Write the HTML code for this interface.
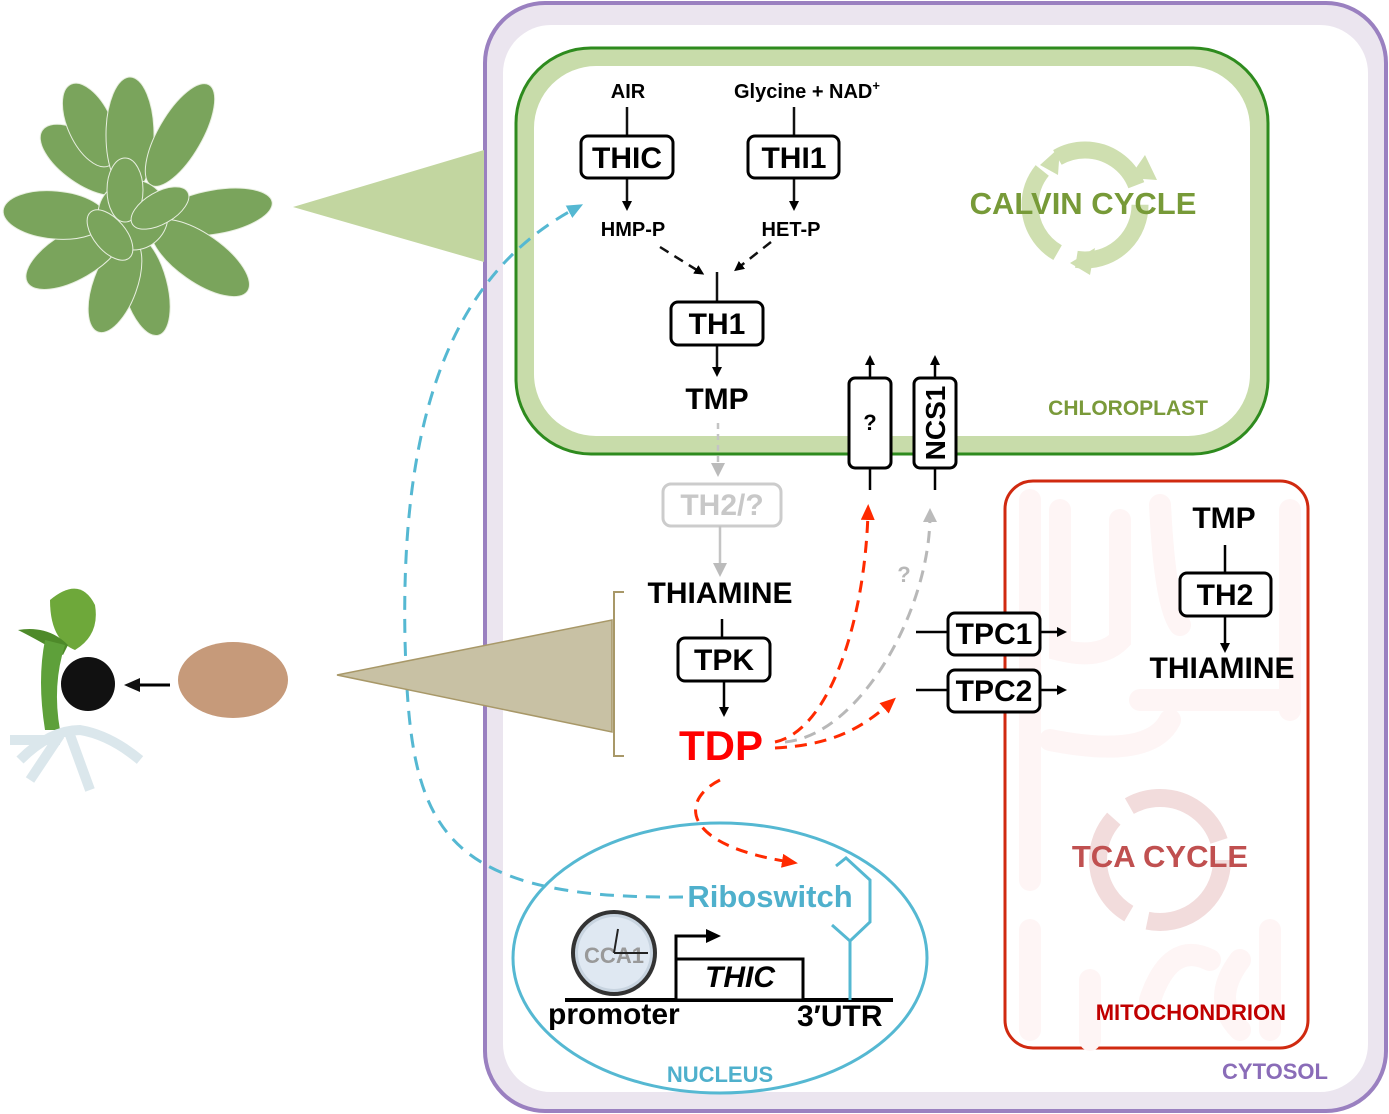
<!DOCTYPE html>
<html><head><meta charset="utf-8"><style>
html,body{margin:0;padding:0;background:#fff;}
svg{display:block;font-family:"Liberation Sans",Arial,sans-serif;font-weight:bold;}
</style></head><body>
<svg width="1389" height="1114" viewBox="0 0 1389 1114" xmlns="http://www.w3.org/2000/svg">
<defs>
<marker id="ab" markerWidth="10" markerHeight="10" refX="5" refY="5" orient="auto" markerUnits="userSpaceOnUse"><path d="M0,0 L10,5 L0,10 z" fill="#000"/></marker>
<marker id="ar" markerWidth="16" markerHeight="14" refX="8" refY="7" orient="auto" markerUnits="userSpaceOnUse"><path d="M0,0 L16,7 L0,14 z" fill="#ff2a00"/></marker>
<marker id="ag" markerWidth="14" markerHeight="14" refX="7" refY="7" orient="auto" markerUnits="userSpaceOnUse"><path d="M0,0 L14,7 L0,14 z" fill="#bbb"/></marker>
<marker id="ac" markerWidth="16" markerHeight="14" refX="8" refY="7" orient="auto" markerUnits="userSpaceOnUse"><path d="M0,0 L16,7 L0,14 z" fill="#55b8d2"/></marker>
<marker id="ak" markerWidth="16" markerHeight="14" refX="8" refY="7" orient="auto" markerUnits="userSpaceOnUse"><path d="M0,0 L16,7 L0,14 z" fill="#111"/></marker>
</defs>

<!-- cytosol -->
<rect x="485" y="3" width="901" height="1108" rx="60" fill="#ebe5ef" stroke="#9a80c0" stroke-width="4"/>
<rect x="503" y="25" width="865" height="1067" rx="48" fill="#fff"/>
<text x="1328" y="1079" font-size="22" fill="#8a6cb8" text-anchor="end">CYTOSOL</text>

<!-- chloroplast -->
<rect x="516" y="48" width="752" height="406" rx="75" fill="#c8dcaa" stroke="#2e8b1e" stroke-width="3"/>
<rect x="534" y="66" width="716" height="370" rx="62" fill="#fff"/>
<text x="1208" y="415" font-size="21" fill="#7a9a3a" text-anchor="end">CHLOROPLAST</text>
<circle cx="1085" cy="205" r="55" fill="none" stroke="#cfdfb0" stroke-width="17" stroke-dasharray="95 20"/>
<path d="M1040,165 l20,-18 l-2,28z M1145,155 l12,25 l-28,-2z M1090,275 l-20,-12 l25,-15z" fill="#cfdfb0"/>
<text x="1083" y="214" font-size="31" fill="#779a38" text-anchor="middle">CALVIN CYCLE</text>

<!-- mitochondrion -->
<rect x="1005" y="481" width="303" height="567" rx="28" fill="#fff" stroke="#d02a10" stroke-width="3"/>
<g fill="none" stroke="#fef5f5" stroke-width="22" stroke-linecap="round">
<path d="M1030,500 v380 M1060,510 v140 q40,10 60,-10 v-120 M1160,505 q5,100 20,120 M1290,510 v200 M1140,700 h140 M1050,740 q100,20 120,-20 M1030,930 v100 M1090,980 v60 M1150,1000 q20,-60 60,-40 M1270,930 v100 M1240,960 q-30,40 0,70"/>
</g>
<circle cx="1160" cy="860" r="62" fill="none" stroke="#f2dcdc" stroke-width="18" stroke-dasharray="110 20"/>
<text x="1160" y="867" font-size="31" fill="#c05050" text-anchor="middle">TCA CYCLE</text>
<text x="1286" y="1020" font-size="22" fill="#c00000" text-anchor="end">MITOCHONDRION</text>

<!-- nucleus -->
<ellipse cx="720" cy="958" rx="207" ry="135" fill="#fff" stroke="#55b8d2" stroke-width="3"/>
<text x="720" y="1082" font-size="22" fill="#4fb0cc" text-anchor="middle">NUCLEUS</text>
<line x1="565" y1="1000" x2="893" y2="1000" stroke="#000" stroke-width="4"/>
<rect x="676" y="959" width="127" height="41" fill="#fff" stroke="#000" stroke-width="3"/>
<text x="740" y="987" font-size="30" font-style="italic" text-anchor="middle">THIC</text>
<path d="M676,959 V936 H708" fill="none" stroke="#000" stroke-width="3"/>
<path d="M706,929 L721,936 L706,943z" fill="#000"/>
<circle cx="614" cy="953" r="41" fill="#c8d4e0" stroke="#333" stroke-width="4"/>
<circle cx="614" cy="953" r="36" fill="#dfe8f2"/>
<text x="614" y="963" font-size="22" fill="#999" text-anchor="middle">CCA1</text>
<path d="M614,953 L618,929 M614,953 H648" stroke="#222" stroke-width="2"/>
<text x="548" y="1024" font-size="30" fill="#000">promoter</text>
<text x="797" y="1026" font-size="30" fill="#000">3′UTR</text>
<path d="M850,1000 V941 M832,925 L850,941 L870,922 V880 L846,858 L836,866" fill="none" stroke="#55b8d2" stroke-width="3"/>
<text x="770" y="907" font-size="31" fill="#4fb0cc" text-anchor="middle">Riboswitch</text>

<!-- blue dashed path -->
<path d="M683,897 C430,900 410,820 405,640 C400,400 460,270 576,208" fill="none" stroke="#55b8d2" stroke-width="3" stroke-dasharray="14 9" marker-end="url(#ac)"/>

<!-- plants -->
<polygon points="293,207 484,150 484,262" fill="#c2d6a0"/>
<polygon points="337,675 612,620 612,732" fill="#c8c1a4" stroke="#a89868" stroke-width="1.5"/>
<path d="M624,592 H614 V756 H624" fill="none" stroke="#a89868" stroke-width="2"/>
<g fill="#7aa45c" stroke="#e8efe0" stroke-width="1">
<ellipse cx="85" cy="160" rx="24" ry="52" transform="rotate(-55 85 160)"/>
<ellipse cx="90" cy="125" rx="22" ry="45" transform="rotate(-25 90 125)"/>
<ellipse cx="130" cy="135" rx="24" ry="58"/>
<ellipse cx="180" cy="135" rx="22" ry="58" transform="rotate(30 180 135)"/>
<ellipse cx="215" cy="212" rx="22" ry="58" transform="rotate(80 215 212)"/>
<ellipse cx="200" cy="258" rx="24" ry="58" transform="rotate(125 200 258)"/>
<ellipse cx="145" cy="285" rx="22" ry="52" transform="rotate(165 145 285)"/>
<ellipse cx="115" cy="285" rx="22" ry="50" transform="rotate(200 115 285)"/>
<ellipse cx="75" cy="255" rx="24" ry="55" transform="rotate(240 75 255)"/>
<ellipse cx="55" cy="215" rx="24" ry="52" transform="rotate(275 55 215)"/>
<circle cx="133" cy="215" r="35"/>
<ellipse cx="125" cy="190" rx="18" ry="32"/>
<ellipse cx="160" cy="208" rx="16" ry="32" transform="rotate(60 160 208)"/>
<ellipse cx="110" cy="235" rx="16" ry="30" transform="rotate(-40 110 235)"/>
</g>
<!-- seedling -->
<path d="M50,600 q30,-25 45,5 q5,30 -20,45 q-25,-10 -25,-50z" fill="#6ea83a"/>
<path d="M18,630 q30,-5 50,15 l-5,10 q-25,-15 -45,-25z" fill="#4e8a2a"/>
<path d="M45,640 q-8,40 0,90 l15,0 q-8,-45 5,-85z" fill="#5ea03a"/>
<circle cx="88" cy="684" r="27" fill="#111"/>
<path d="M20,760 q30,-30 60,-30 q30,5 60,30 M30,780 l30,-45 M90,790 l-20,-55 M10,740 l50,0" stroke="#dbe7ec" stroke-width="10" fill="none"/>
<line x1="170" y1="685" x2="132" y2="685" stroke="#000" stroke-width="3" marker-end="url(#ak)"/>
<ellipse cx="233" cy="680" rx="55" ry="38" fill="#c69a7a"/>

<!-- chloroplast pathway -->
<g font-size="20" text-anchor="middle">
<text x="628" y="98">AIR</text>
<text x="807" y="98">Glycine + NAD<tspan font-size="13" dy="-8">+</tspan></text>
<text x="633" y="236">HMP-P</text>
<text x="791" y="236">HET-P</text>
</g>
<g stroke="#111" stroke-width="2.5" fill="none">
<line x1="627" y1="107" x2="627" y2="137"/>
<line x1="794" y1="107" x2="794" y2="137"/>
<line x1="627" y1="178" x2="627" y2="206" marker-end="url(#ab)"/>
<line x1="794" y1="178" x2="794" y2="206" marker-end="url(#ab)"/>
<line x1="660" y1="247" x2="700" y2="272" stroke-dasharray="10 7" marker-end="url(#ab)"/>
<line x1="771" y1="242" x2="738" y2="268" stroke-dasharray="10 7" marker-end="url(#ab)"/>
<line x1="717" y1="272" x2="717" y2="302"/>
<line x1="717" y1="345" x2="717" y2="372" marker-end="url(#ab)"/>
</g>
<g fill="#fff" stroke="#000" stroke-width="3">
<rect x="581" y="136" width="92" height="42" rx="7"/>
<rect x="748" y="136" width="91" height="42" rx="7"/>
<rect x="671" y="302" width="92" height="43" rx="7"/>
<rect x="678" y="638" width="92" height="43" rx="7"/>
<rect x="948" y="613" width="92" height="42" rx="7"/>
<rect x="948" y="670" width="92" height="42" rx="7"/>
<rect x="1180" y="573" width="91" height="43" rx="7"/>
<rect x="849" y="378" width="42" height="90" rx="6"/>
<rect x="914" y="378" width="42" height="90" rx="6"/>
</g>
<rect x="663" y="484" width="118" height="42" rx="8" fill="#fff" stroke="#ccc" stroke-width="3"/>
<g font-size="30" text-anchor="middle">
<text x="627" y="168">THIC</text>
<text x="794" y="168">THI1</text>
<text x="717" y="334">TH1</text>
<text x="717" y="409">TMP</text>
<text x="722" y="515" fill="#c8c8c8">TH2/?</text>
<text x="720" y="603">THIAMINE</text>
<text x="724" y="670">TPK</text>
<text x="994" y="644">TPC1</text>
<text x="994" y="701">TPC2</text>
<text x="1225" y="605">TH2</text>
<text x="1224" y="528">TMP</text>
<text x="1222" y="678">THIAMINE</text>
</g>
<text x="870" y="430" font-size="22" text-anchor="middle">?</text>
<text x="0" y="0" font-size="28" text-anchor="middle" transform="translate(945,423) rotate(-90)">NCS1</text>
<text x="721" y="760" font-size="42" fill="#ff0000" text-anchor="middle">TDP</text>

<g stroke="#000" stroke-width="2.5" fill="none">
<line x1="870" y1="378" x2="870" y2="360" marker-end="url(#ab)"/>
<line x1="935" y1="378" x2="935" y2="360" marker-end="url(#ab)"/>
<line x1="870" y1="468" x2="870" y2="490"/>
<line x1="935" y1="468" x2="935" y2="490"/>
<line x1="722" y1="619" x2="722" y2="638"/>
<line x1="724" y1="681" x2="724" y2="712" marker-end="url(#ab)"/>
<line x1="916" y1="632" x2="948" y2="632"/>
<line x1="916" y1="690" x2="948" y2="690"/>
<line x1="1040" y1="632" x2="1062" y2="632" marker-end="url(#ab)"/>
<line x1="1040" y1="690" x2="1062" y2="690" marker-end="url(#ab)"/>
<line x1="1225" y1="545" x2="1225" y2="573"/>
<line x1="1225" y1="616" x2="1225" y2="648" marker-end="url(#ab)"/>
</g>
<g stroke="#c4c4c4" stroke-width="2.5" fill="none">
<line x1="718" y1="423" x2="718" y2="470" stroke-dasharray="6 5" marker-end="url(#ag)"/>
<line x1="720" y1="526" x2="720" y2="570" marker-end="url(#ag)"/>
</g>
<path d="M785,742 C860,735 930,610 930,515" fill="none" stroke="#b8b8b8" stroke-width="3" stroke-dasharray="12 8" marker-end="url(#ag)"/>
<text x="904" y="582" font-size="22" fill="#b8b8b8" text-anchor="middle">?</text>
<path d="M775,742 C830,730 865,620 868,512" fill="none" stroke="#ff2a00" stroke-width="3" stroke-dasharray="12 8" marker-end="url(#ar)"/>
<path d="M775,748 C830,745 860,730 890,703" fill="none" stroke="#ff2a00" stroke-width="3" stroke-dasharray="12 8" marker-end="url(#ar)"/>
<path d="M720,780 C680,800 680,845 790,862" fill="none" stroke="#ff2a00" stroke-width="3" stroke-dasharray="12 8" marker-end="url(#ar)"/>
</svg>
</body></html>
